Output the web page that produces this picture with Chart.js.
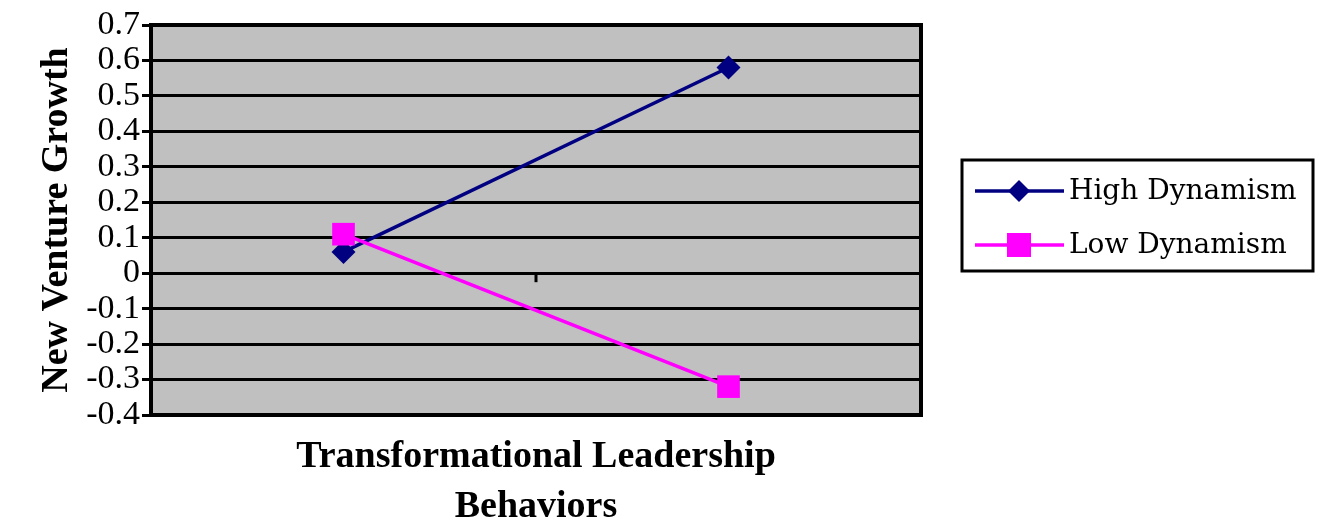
<!DOCTYPE html>
<html>
<head>
<meta charset="utf-8">
<script src="https://cdn.jsdelivr.net/npm/chart.js@4"></script>
<style>
html,body{margin:0;padding:0;background:#fff;}
#wrap{width:1337px;height:532px;position:relative;}
</style>
</head>
<body>
<div id="wrap"><canvas id="c" width="1337" height="532"></canvas></div>
<script>
const categories = ['Low', 'High'];
const seriesNames = ['High Dynamism', 'Low Dynamism'];
const highDynamism = [0.06, 0.58];
const lowDynamism = [0.11, -0.32];
const yTicks = [0.7, 0.6, 0.5, 0.4, 0.3, 0.2, 0.1, 0, -0.1, -0.2, -0.3, -0.4];
const yTitle = 'New Venture Growth';
const xTitle = ['Transformational Leadership', 'Behaviors'];

const SERIF = '"Liberation Serif", "Times New Roman", serif';

const plotBg = {
  id: 'plotBg',
  beforeDraw(chart) {
    const {ctx, chartArea: a} = chart;
    ctx.save();
    ctx.fillStyle = '#C0C0C0';
    ctx.fillRect(a.left, a.top, a.right - a.left, a.bottom - a.top);
    ctx.restore();
  },
  afterDraw(chart) {
    const {ctx, chartArea: a, scales} = chart;
    ctx.save();
    ctx.strokeStyle = '#000';
    ctx.lineWidth = 4;
    ctx.strokeRect(a.left, a.top, a.right - a.left, a.bottom - a.top);
    const x = (scales.x.getPixelForTick(0) + scales.x.getPixelForTick(1)) / 2;
    const y0 = scales.y.getPixelForValue(0);
    ctx.lineWidth = 3;
    ctx.beginPath();
    ctx.moveTo(x, y0);
    ctx.lineTo(x, y0 + 9);
    ctx.stroke();
    const lx = 962, ly = 160, lw = 351, lh = 111;
    ctx.fillStyle = '#fff';
    ctx.fillRect(lx, ly, lw, lh);
    ctx.lineWidth = 3;
    ctx.strokeRect(lx, ly, lw, lh);
    chart.data.datasets.forEach((ds) => {
      const idx = seriesNames.indexOf(ds.label);
      const cy = ly + 31 + idx * 54;
      ctx.strokeStyle = ds.borderColor;
      ctx.lineWidth = ds.borderWidth;
      ctx.beginPath();
      ctx.moveTo(975, cy);
      ctx.lineTo(1064, cy);
      ctx.stroke();
      ctx.fillStyle = ds.pointBackgroundColor;
      if (ds.pointStyle === 'rectRot') {
        ctx.beginPath();
        ctx.moveTo(1019, cy - 11);
        ctx.lineTo(1030, cy);
        ctx.lineTo(1019, cy + 11);
        ctx.lineTo(1008, cy);
        ctx.closePath();
        ctx.fill();
      } else {
        ctx.fillRect(1007, cy - 12, 24, 24);
      }
      ctx.fillStyle = '#000';
      ctx.font = '28px "DejaVu Serif", serif';
      ctx.textBaseline = 'middle';
      ctx.textAlign = 'left';
      ctx.fillText(ds.label, 1069, cy + 1);
    });
    ctx.restore();
  }
};

new Chart(document.getElementById('c'), {
  type: 'line',
  data: {
    labels: categories,
    datasets: [
      {
        label: seriesNames[0],
        data: highDynamism,
        borderColor: '#000080',
        backgroundColor: '#000080',
        pointBackgroundColor: '#000080',
        pointBorderColor: '#000080',
        borderWidth: 3.5,
        pointStyle: 'rectRot',
        pointRadius: 12,
        pointBorderWidth: 0,
        order: 1
      },
      {
        label: seriesNames[1],
        data: lowDynamism,
        borderColor: '#FF00FF',
        backgroundColor: '#FF00FF',
        pointBackgroundColor: '#FF00FF',
        pointBorderColor: '#FF00FF',
        borderWidth: 3.5,
        pointStyle: 'rect',
        pointRadius: 16,
        pointBorderWidth: 0,
        order: 0
      }
    ]
  },
  options: {
    responsive: false,
    animation: false,
    devicePixelRatio: 1,
    layout: {padding: {left: 20, top: 25, right: 416, bottom: 0}},
    plugins: {legend: {display: false}, tooltip: {enabled: false}},
    scales: {
      x: {
        type: 'category',
        offset: true,
        grid: {display: false, drawTicks: false},
        border: {display: false},
        ticks: {display: false},
        title: {
          display: true,
          text: xTitle,
          color: '#000',
          font: {family: SERIF, size: 38, weight: 'bold', lineHeight: 1.32},
          padding: {top: 0, bottom: 0}
        },
        afterFit(s) { s.height = 117; }
      },
      y: {
        min: -0.4,
        max: 0.7,
        afterBuildTicks(s) { s.ticks = yTicks.map(v => ({value: v})); },
        grid: {color: '#000', lineWidth: 3, tickLength: 9, drawTicks: true},
        border: {display: false},
        ticks: {
          color: '#000',
          padding: 2,
          autoSkip: false,
          font: {family: SERIF, size: 34, lineHeight: 1},
          callback: v => String(Math.round(v * 10) / 10)
        },
        title: {
          display: true,
          text: yTitle,
          color: '#000',
          font: {family: SERIF, size: 38, weight: 'bold', lineHeight: 1},
          padding: {top: 18, bottom: 0}
        },
        afterFit(s) { s.width = 131; }
      }
    }
  },
  plugins: [plotBg]
});
</script>
</body>
</html>
